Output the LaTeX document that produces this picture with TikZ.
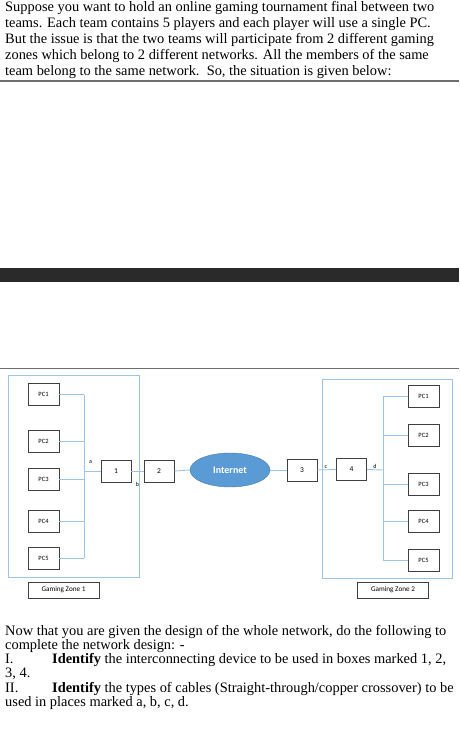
\documentclass[tikz,border=0pt]{standalone}
\usepackage{fontspec}
\setmainfont{Liberation Serif}
\newfontfamily\diagfont{Carlito}
\usetikzlibrary{positioning, shapes.geometric}
\definecolor{linkblue}{HTML}{9DC3E6}
\definecolor{inetblue}{HTML}{5B9BD5}
\definecolor{boxgray}{HTML}{404040}
\definecolor{barblack}{HTML}{2A2A2A}
\definecolor{rulegray}{HTML}{6E6E6E}
\tikzset{
    pcbox/.style={draw=boxgray, line width=0.6pt, minimum width=31pt, minimum height=22pt, inner sep=0pt, font=\diagfont\fontsize{6.5}{7}\selectfont},
    devbox/.style={draw=boxgray, line width=0.6pt, minimum width=30pt, minimum height=22pt, inner sep=0pt, font=\diagfont\fontsize{7.5}{8}\selectfont},
    zonebox/.style={draw=linkblue, line width=0.9pt, inner sep=0pt},
    zonelabel/.style={draw=boxgray, line width=0.6pt, minimum width=71pt, minimum height=16pt, inner sep=0pt, font=\diagfont\fontsize{7.2}{8}\selectfont},
    inetnode/.style={ellipse, fill=inetblue, draw=inetblue!80!black, line width=0.4pt, minimum width=80pt, minimum height=34pt, inner sep=0pt, text=white, font=\diagfont\bfseries\fontsize{10}{11}\selectfont},
    cable/.style={draw=linkblue, line width=0.9pt},
    cablelabel/.style={inner sep=0pt, font=\diagfont\fontsize{6}{7}\selectfont},
    para/.style={anchor=north west, inner sep=0pt, align=left, font=\fontsize{14.4}{16}\selectfont}
}

\begin{document}
\begin{tikzpicture}[x=1pt, y=-1pt]
    \useasboundingbox (0,0) rectangle (459,735);

    % Question text
    \node[para] (intro) at (5,1.5) {Suppose you want to hold an online gaming tournament final between two\\
        teams. Each team contains 5 players and each player will use a single PC.\\
        But the issue is that the two teams will participate from 2 different gaming\\
        zones which belong to 2 different networks. All the members of the same\\
        team belong to the same network.\ \ So, the situation is given below:};
    \draw[rulegray, line width=1.5pt] (0,81) -- (459,81);
    \fill[barblack] (0,268) rectangle (459,282);
    \draw[rulegray, line width=1.5pt] (0,368.5) -- (459,368.5);

    % Gaming zones
    \node[zonebox, minimum width=131pt, minimum height=202pt] (zone1) at (73.5,476) {};
    \node[zonebox, minimum width=130pt, minimum height=199pt] (zone2) at (387,478.5) {};
    \node[zonelabel] (zlab1) at (63.5,590) {Gaming Zone 1};
    \node[zonelabel] (zlab2) at (393,590) {Gaming Zone 2};

    % PCs of zone 1
    \node[pcbox] (lpc1) at (43.5,394.5) {PC1};
    \node[pcbox] (lpc2) at (43.5,441) {PC2};
    \node[pcbox] (lpc3) at (43.5,479) {PC3};
    \node[pcbox] (lpc4) at (43.5,521) {PC4};
    \node[pcbox] (lpc5) at (43.5,558) {PC5};

    % PCs of zone 2
    \node[pcbox] (rpc1) at (423.5,396.5) {PC1};
    \node[pcbox] (rpc2) at (423.5,435.5) {PC2};
    \node[pcbox] (rpc3) at (423.5,484.5) {PC3};
    \node[pcbox] (rpc4) at (423.5,521.5) {PC4};
    \node[pcbox] (rpc5) at (423.5,560.5) {PC5};

    % Devices and the internet
    \node[devbox] (dev1) at (116,471) {1};
    \node[devbox] (dev2) at (159,471) {2};
    \node[inetnode] (inet) at (230,470) {Internet};
    \node[devbox] (dev3) at (302,470) {3};
    \node[devbox] (dev4) at (351.5,469.5) {4};

    % Bus lines
    \coordinate (lbus) at (84,471);
    \coordinate (rbus) at (383,470);
    \draw[cable] (lbus |- lpc1) -- (lbus |- lpc5);
    \draw[cable] (rbus |- rpc1) -- (rbus |- rpc5);
    \foreach \i in {1,...,5} {
        \draw[cable] (lpc\i.east) -- (lpc\i.east -| lbus);
        \draw[cable] (rpc\i.west) -- (rpc\i.west -| rbus);
    }

    % Links along the chain
    \draw[cable] (lbus) -- node[cablelabel, pos=0.4, above=7pt] {a} (dev1.west);
    \draw[cable] (dev1.east) -- node[cablelabel, pos=0.5, below=11pt] {b} (dev2.west);
    \draw[cable] (dev2.east) -- (inet.west);
    \draw[cable] (inet.east) -- (dev3.west);
    \draw[cable] (dev3.east) -- node[cablelabel, pos=0.45, above=1pt] {c} (dev4.west);
    \draw[cable] (dev4.east) -- node[cablelabel, above=1pt] {d} (rbus);

    % Tasks
    \node[para, font=\fontsize{14.4}{14.2}\selectfont] (tasks) at (5,625) {Now that you are given the design of the whole network, do the following to\\
        complete the network design: -\\
        \makebox[47pt][l]{I.}\textbf{Identify} the interconnecting device to be used in boxes marked 1, 2,\\
        3, 4.\\
        \makebox[47pt][l]{II.}\textbf{Identify} the types of cables (Straight-through/copper crossover) to be\\
        used in places marked a, b, c, d.};
\end{tikzpicture}
\end{document}
